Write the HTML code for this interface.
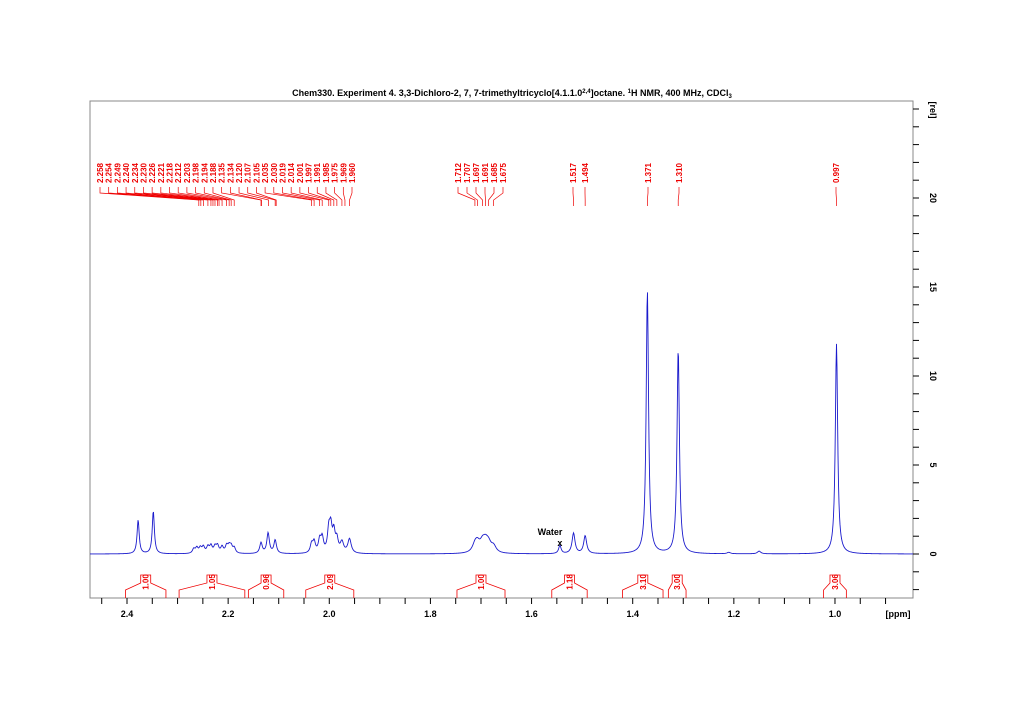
<!DOCTYPE html>
<html><head><meta charset="utf-8"><style>
body{margin:0;background:#fff;}
svg{display:block;font-family:"Liberation Sans",Arial,sans-serif;}
</style></head><body>
<svg id="c" width="1024" height="724" viewBox="0 0 1024 724">
<text x="512" y="96" text-anchor="middle" font-size="9" font-weight="bold">Chem330. Experiment 4. 3,3-Dichloro-2, 7, 7-trimethyltricyclo[4.1.1.0<tspan font-size="6" dy="-3">2,4</tspan><tspan dy="3">]octane. </tspan><tspan font-size="6" dy="-3">1</tspan><tspan dy="3">H NMR, 400 MHz, CDCl</tspan><tspan font-size="6" dy="2">3</tspan></text>
<rect x="90" y="101" width="823" height="497" fill="none" stroke="#888" stroke-width="1"/>
<g id="g"></g>
</svg>
<script>
// spectrum lines
const peakPpm=[2.378,2.348,2.268,2.262,2.255,2.249,2.240,2.234,2.226,2.221,2.212,2.203,2.198,2.194,2.188,2.135,2.121,2.107,2.035,2.030,2.019,2.014,2.001,1.997,1.991,1.985,1.975,1.960,1.712,1.707,1.697,1.691,1.685,1.675,1.544,1.517,1.494,1.371,1.310,1.210,1.150,0.997];
const peakHeight=[1.9,2.4,0.25,0.3,0.3,0.35,0.35,0.4,0.35,0.4,0.35,0.4,0.35,0.35,0.3,0.6,1.15,0.75,0.5,0.6,0.7,0.8,1.2,1.3,1.1,0.7,0.6,0.8,0.4,0.45,0.5,0.5,0.45,0.35,0.45,1.15,1.0,14.8,11.5,0.08,0.15,11.8];
const peakWidth=[0.0025,0.0025,0.003,0.003,0.003,0.003,0.003,0.003,0.003,0.003,0.003,0.003,0.003,0.003,0.003,0.003,0.003,0.003,0.003,0.003,0.003,0.003,0.003,0.003,0.003,0.003,0.004,0.004,0.006,0.006,0.006,0.006,0.006,0.006,0.003,0.0035,0.0035,0.0028,0.0028,0.004,0.004,0.0028];
const xTicks=[2.4,2.2,2.0,1.8,1.6,1.4,1.2,1.0];
const yTicks=[0,5,10,15,20];
const peakLabels=["2.258","2.254","2.249","2.240","2.234","2.230","2.226","2.221","2.218","2.212","2.203","2.198","2.194","2.188","2.135","2.134","2.120","2.107","2.105","2.035","2.030","2.019","2.014","2.001","1.997","1.991","1.985","1.975","1.969","1.960","1.712","1.707","1.697","1.691","1.685","1.675","1.517","1.494","1.371","1.310","0.997"];
const integralCenters=[2.363,2.232,2.125,1.999,1.700,1.525,1.380,1.312,1.000];
const integralWidths=[0.08,0.13,0.07,0.095,0.095,0.07,0.08,0.035,0.045];
const integralValues=["1.00","1.05","0.96","2.09","1.00","1.18","3.10","3.00","3.06"];

const NS='http://www.w3.org/2000/svg',g=document.getElementById('g');
const X=p=>127+(2.4-p)*505.7, Y=v=>554-v*17.8;
function mk(t,a,txt){const e=document.createElementNS(NS,t);for(const k in a)e.setAttribute(k,a[k]);if(txt!==undefined)e.textContent=txt;g.appendChild(e);return e;}
for(let p=2.45;p>=0.9;p-=0.05){const x=X(p);if(x<90||x>913)continue;const t=mk('line',{x1:x,x2:x,y1:598,y2:604,stroke:'#000'});

}
xTicks.forEach(p=>{const t=mk('text',{x:X(p),y:617,'font-size':9,'font-weight':'bold','text-anchor':'middle'},p.toFixed(1));

});
const u=mk('text',{x:898,y:617,'font-size':9,'font-weight':'bold','text-anchor':'middle'},'[ppm]');


for(let v=-2;v<=25;v++){const y=Y(v);if(y<101||y>598)continue;const t=mk('line',{x1:913,x2:919,y1:y,y2:y,stroke:'#000'});

}
yTicks.forEach(v=>{const t=mk('text',{x:0,y:0,'font-size':9,'font-weight':'bold','text-anchor':'middle',transform:`translate(930,${Y(v)}) rotate(90)`},v);

});
const r=mk('text',{x:0,y:0,'font-size':9,'font-weight':'bold','text-anchor':'middle',transform:'translate(930,110) rotate(90)'},'[rel]');


let d='';
for(let x=90;x<=913;x+=0.5){const p=2.4-(x-127)/505.7;let s=0;
for(let i=0;i<peakPpm.length;i++){const w=peakWidth[i],dd=p-peakPpm[i];s+=peakHeight[i]*w*w/(dd*dd+w*w);}
d+=(d?'L':'M')+x.toFixed(1)+','+Y(s).toFixed(2);}
const sp=mk('path',{d:d,fill:'none',stroke:'#1a1acc','stroke-width':0.9});


const w=mk('text',{x:550,y:535,'font-size':9,'font-weight':'bold','text-anchor':'middle'},'Water');


mk('text',{x:X(1.544),y:546,'font-size':9,'font-weight':'bold','text-anchor':'middle'},'x');
const groups=[[0,30,100,352],[30,36,458,503]];
const lx=[];
groups.forEach(([a,b,x0,x1])=>{for(let i=a;i<b;i++)lx[i]=x0+(x1-x0)*(i-a)/(b-a-1);});
lx[36]=573;lx[37]=585;lx[38]=648;lx[39]=679;lx[40]=836;
peakLabels.forEach((l,i)=>{const x=lx[i],px=X(parseFloat(l));
const t=mk('text',{x:0,y:0,'font-size':8,'font-weight':'bold',fill:'#e00','text-anchor':'end',transform:`translate(${x+3},163) rotate(-90)`},l);


const pl=mk('polyline',{points:`${x},187 ${x},193 ${px},200 ${px},206`,fill:'none',stroke:'#e00','stroke-width':0.7});

});
integralCenters.forEach((c,i)=>{const x=X(c),h=integralWidths[i]*505.7/2;
const pl=mk('polyline',{points:`${x-h},598 ${x-h},590 ${x-6},583 ${x-6},575 M`,fill:'none',stroke:'#e00','stroke-width':0.8});
pl.setAttribute('points',`${x-h},598 ${x-h},590 ${x-5},583 ${x-5},575 ${x+5},575 ${x+5},583 ${x+h},590 ${x+h},598`);


const t=mk('text',{x:0,y:0,'font-size':8,'font-weight':'bold',fill:'#e00','text-anchor':'middle',transform:`translate(${x+3},582) rotate(-90)`},integralValues[i]);

});
</script>
</body></html>
